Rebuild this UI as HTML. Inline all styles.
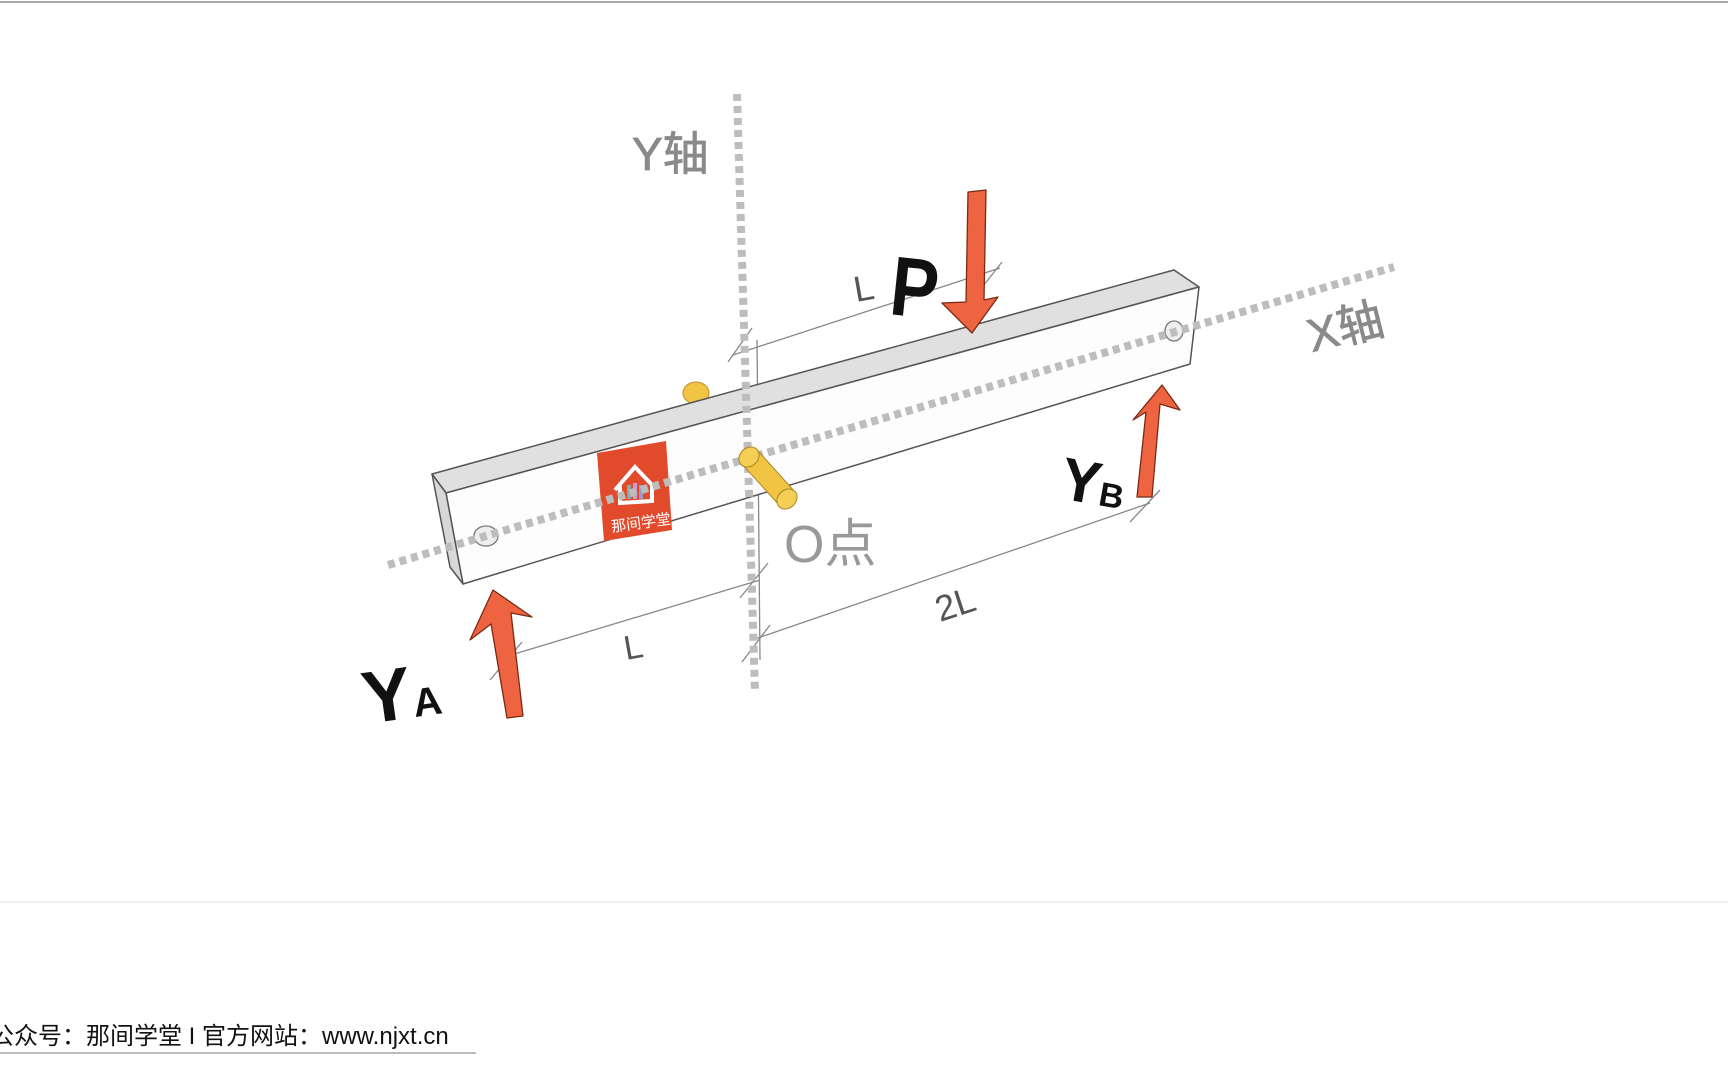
<!DOCTYPE html>
<html><head><meta charset="utf-8"><style>
html,body{margin:0;padding:0;background:#fff;width:1728px;height:1080px;overflow:hidden}
svg{display:block}
text{font-family:"Liberation Sans","Noto Sans CJK SC",sans-serif}
</style></head><body>
<svg width="1728" height="1080" viewBox="0 0 1728 1080" xmlns="http://www.w3.org/2000/svg">
<line x1="0" y1="2" x2="1728" y2="2" stroke="#aaa" stroke-width="2"/>
<g stroke="#888" stroke-width="1.3" fill="none">
<line x1="733" y1="355" x2="1000" y2="268"/>
<line x1="728" y1="362" x2="752" y2="328"/><line x1="980" y1="290" x2="1002" y2="262"/>
<line x1="980" y1="270" x2="980" y2="335"/>
<line x1="501" y1="658" x2="760" y2="580"/>
<line x1="490" y1="680" x2="522" y2="642"/><line x1="740" y1="598" x2="768" y2="563"/>
<line x1="755" y1="639" x2="1150" y2="503"/>
<line x1="742" y1="662" x2="770" y2="625"/><line x1="1130" y1="522" x2="1160" y2="490"/>
<line x1="757" y1="340" x2="760" y2="660"/>
</g>
<ellipse cx="696" cy="393" rx="13" ry="11" fill="#f2c443" stroke="#b8902a" stroke-width="1"/>
<polygon points="432,474 1174,270 1199,287 446,493" fill="#e0e0e0" stroke="#555" stroke-width="1.5" stroke-linejoin="round"/>
<polygon points="446,493 1199,287 1190,364 463,584" fill="#fdfdfd" stroke="#555" stroke-width="1.5" stroke-linejoin="round"/>
<polygon points="432,474 446,493 463,584 450,567" fill="#d8d8d8" stroke="#555" stroke-width="1.5" stroke-linejoin="round"/>
<ellipse cx="486" cy="536" rx="12" ry="10" fill="#eee" stroke="#777" stroke-width="1.3"/>
<ellipse cx="1174" cy="331" rx="9" ry="10" fill="#eee" stroke="#777" stroke-width="1.3"/>
<polygon points="597,453 666,441 672,530 604,541" fill="#e24a2c"/>
<path d="M615 490 L635 467 L655 488 M620 486 L620 503 L652 501 L652 484" stroke="#fff" stroke-width="4" fill="none"/>
<rect x="627" y="485" width="4" height="14" fill="#8aa"/><rect x="633" y="483" width="4" height="16" fill="#c9c"/><rect x="639" y="485" width="4" height="14" fill="#99c"/>
<text x="612" y="532" font-size="15" fill="#fff" transform="rotate(-8 612 532)">那间学堂</text>
<line x1="737" y1="94" x2="755" y2="692" stroke="#bdbdbd" stroke-width="8" stroke-dasharray="7,5"/>
<line x1="388" y1="565" x2="1394" y2="267" stroke="#bdbdbd" stroke-width="8" stroke-dasharray="7,5"/>
<g>
<polygon points="741,463 758,451 796,493 779,505" fill="#f2c443" stroke="#a88424" stroke-width="1"/>
<ellipse cx="749" cy="457" rx="11" ry="9" transform="rotate(-45 749 457)" fill="#f5cf55" stroke="#a88424" stroke-width="1"/>
<ellipse cx="787" cy="499" rx="11" ry="9" transform="rotate(-45 787 499)" fill="#f5cf55" stroke="#a88424" stroke-width="1"/>
</g>
<g fill="#ee6440" stroke="#7a2a14" stroke-width="1.3" stroke-linejoin="round">
<polygon points="968,192 986,190 984,300 998,297 972,333 942,303 966,302"/>
<polygon points="1162,385 1180,410 1160,404 1152,497 1137,497 1146,412 1133,420"/>
<polygon points="493,590 532,617 511,613 523,716 507,718 491,624 470,640"/>
</g>
<text x="632" y="170" font-size="46" fill="#8a8a8a" stroke="#8a8a8a" stroke-width="0.8">Y轴</text>
<text x="1312" y="352" font-size="46" fill="#8a8a8a" stroke="#8a8a8a" stroke-width="0.8" transform="rotate(-14 1312 352)">X轴</text>
<text x="784" y="562" font-size="52" fill="#999">O点</text>
<text x="856" y="302" font-size="36" fill="#555" transform="rotate(-10 856 302)">L</text>
<g transform="translate(888,314) rotate(6)"><text x="0" y="0" font-size="84" font-weight="bold" fill="#111" transform="scale(0.85 1)">P</text></g>
<text x="940" y="622" font-size="36" fill="#555" transform="rotate(-18 940 622)">2L</text>
<text x="626" y="660" font-size="34" fill="#555" transform="rotate(-10 626 660)">L</text>
<text x="1058" y="498" font-size="60" font-weight="bold" fill="#111" transform="rotate(10 1058 498)">Y<tspan font-size="34">B</tspan></text>
<text x="366" y="724" font-size="74" font-weight="bold" fill="#111" transform="rotate(-8 366 724)">Y<tspan font-size="40">A</tspan></text>
<line x1="0" y1="902" x2="1728" y2="902" stroke="#eee" stroke-width="1.5"/>
<text x="-10" y="1044" font-size="24" fill="#111">公众号：那间学堂 I 官方网站：www.njxt.cn</text>
<line x1="0" y1="1053" x2="476" y2="1053" stroke="#bbb" stroke-width="2"/>
</svg>
</body></html>
